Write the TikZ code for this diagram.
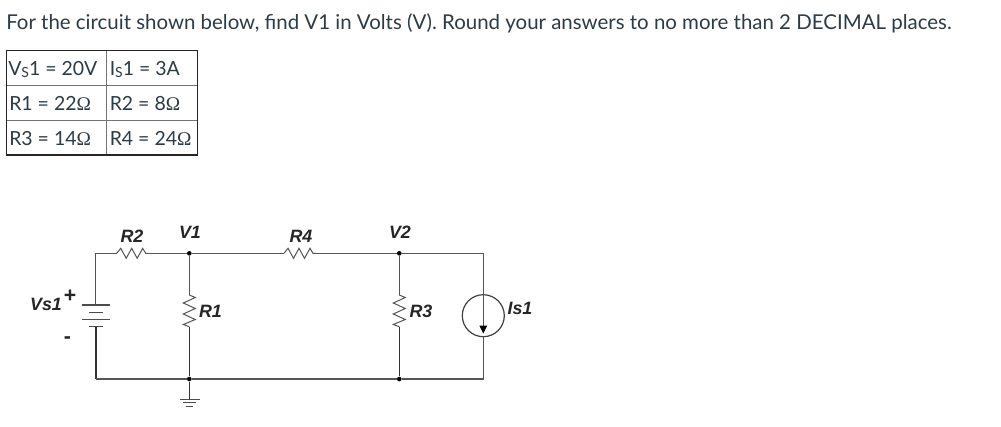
\documentclass[tikz,border=0pt]{standalone}
\usepackage{fontspec}
\setmainfont{Lato}
\newfontfamily\arialf{Liberation Sans}
\newfontfamily\omegaf{Liberation Serif}
\newcommand{\Om}{{\omegaf\fontsize{14.5}{14.5}\selectfont Ω}}
\newcommand{\Sb}{\raisebox{-2.2pt}{\fontsize{10.5}{10.5}\selectfont S}}
\definecolor{txt}{HTML}{2D3B45}
\definecolor{wire}{HTML}{555555}
\tikzset{
  x=0.75pt,y=-0.75pt,
  head/.style={anchor=base west,inner sep=0,text=txt,font=\fontsize{15.33}{18}\selectfont},
  cell/.style={anchor=base west,inner sep=0,text=txt,font=\fontsize{14.6}{18}\selectfont},
  lab/.style={inner sep=0,anchor=center,text=black!85,font=\arialf\bfseries\itshape\fontsize{13.4}{15}\selectfont},
  wirel/.style={draw=wire,line width=0.95pt},
  heavy/.style={draw=black!80,line width=1.2pt},
  res/.style={draw=wire,line width=0.75pt},
  grid/.style={draw=black!55,line width=0.8pt},
  frame/.style={draw=black!85,line width=0.9pt},
  dot/.style={circle,fill=black,inner sep=0,minimum size=3.5pt},
  plate/.style={draw=black!70,line width=1pt}
}
\begin{document}
\begin{tikzpicture}
\useasboundingbox[fill=white] (0,0) rectangle (1001,426);
\node[head] (title) at (6,29) {For the circuit shown below, find V1 in Volts (V). Round your answers to no more than 2 DECIMAL places.};
% table
\coordinate (tl) at (6.5,50.5);
\coordinate (br) at (197.5,155);
\draw[grid] (106.5,50.5) -- (106.5,155) (6.5,85.5) -- (197.5,85.5) (6.5,120.3) -- (197.5,120.3);
\draw[frame] (tl) rectangle (br);
\node[cell] (c1) at (8,75) {V\Sb 1 = 20V};
\node[cell] (c2) at (109.5,75) {I\Sb 1 = 3A};
\node[cell] (c3) at (9,110) {R1 = 22\Om};
\node[cell] (c4) at (109.5,110) {R2 = 8\Om};
\node[cell] (c5) at (9,145) {R3 = 14\Om};
\node[cell] (c6) at (109.5,145) {R4 = 24\Om};
% circuit coordinates
\coordinate (tlc) at (95.7,253.3);
\coordinate (r2a) at (116.7,253.3);
\coordinate (r2b) at (148,253.3);
\node[dot] (v1) at (189.3,253.3) {};
\coordinate (r4a) at (284,253.3);
\coordinate (r4b) at (316,253.3);
\node[dot] (v2) at (399.3,253.3) {};
\coordinate (trc) at (483.3,253.3);
\coordinate (r1a) at (189.3,295);
\coordinate (r1b) at (189.3,326.7);
\coordinate (r3a) at (399.3,295);
\coordinate (r3b) at (399.3,326.7);
\coordinate (bp1) at (95.7,305);
\coordinate (bp4) at (95.7,326.7);
\coordinate (blc) at (95.7,379);
\node[dot] (g1) at (189.3,379) {};
\node[dot] (g2) at (399.3,379) {};
\coordinate (brc) at (483.3,379);
\coordinate (gnd) at (189.3,399.3);
\node[circle,draw=black!75,line width=0.9pt,minimum size=31.5pt,inner sep=0] (is) at (483.3,315.7) {};
% wires
\draw[wirel] (bp1) -- (tlc) -- (r2a);
\draw[wirel] (r2b) -- (v1) -- (r4a);
\draw[wirel] (r4b) -- (v2) -- (trc) -- (is.north);
\draw[wirel] (v1) -- (r1a);
\draw[wirel] (v2) -- (r3a);
\draw[heavy] (r1b) -- (g1) -- (gnd);
\draw[heavy] (r3b) -- (g2);
\draw[heavy] (bp4) -- (blc);
\draw[wirel] (blc) -- (g1) -- (g2) -- (brc) -- (is.south);
% resistors
\draw[res] (r2a) -- ++(4,-5) -- ++(5.5,10) -- ++(5.5,-10) -- ++(5.5,10) -- ++(5.5,-10) -- ++(3,5) -- (r2b);
\draw[res] (r4a) -- ++(4,-5) -- ++(5.5,10) -- ++(5.5,-10) -- ++(5.5,10) -- ++(5.5,-10) -- ++(3,5) -- (r4b);
\draw[res] (r1a) -- ++(6,2.5) -- ++(-12,5.5) -- ++(12,5.5) -- ++(-12,5.5) -- ++(12,5.5) -- ++(-12,5) -- (r1b);
\draw[res] (r3a) -- ++(6,2.5) -- ++(-12,5.5) -- ++(12,5.5) -- ++(-12,5.5) -- ++(12,5.5) -- ++(-12,5) -- (r3b);
% battery
\draw[plate] (81.7,305) -- (109.7,305) (89,312.7) -- (103,312.7) (81.7,319.3) -- (109.7,319.3) (89,326.7) -- (103,326.7);
% ground
\draw[plate] (179.5,399.3) -- (199.5,399.3) (183,402.8) -- (196,402.8) (185.5,406.7) -- (193,406.7);
% source arrow
\coordinate (arr) at (483.3,333.5);
\draw[wirel] (is.north) -- (483.3,326);
\fill[black] (arr) -- (479.3,325.5) -- (487.3,325.5) -- cycle;
% labels
\node[lab] (lr2) at (132,236.5) {R2};
\node[lab] (lv1) at (190,232.5) {V1};
\node[lab] (lr4) at (301,236.5) {R4};
\node[lab] (lv2) at (400,232.5) {V2};
\node[lab] (lvs) at (46,304) {Vs1};
\node[lab,font=\arialf\bfseries\fontsize{16}{16}\selectfont] (lp) at (70,296) {+};
\node[lab,font=\arialf\bfseries\fontsize{16}{16}\selectfont] (lm) at (67.5,340) {-};
\node[lab] (lr1) at (210.5,311.5) {R1};
\node[lab] (lr3) at (421,311.5) {R3};
\node[lab] (lis) at (520,308.5) {Is1};
\end{tikzpicture}
\end{document}
